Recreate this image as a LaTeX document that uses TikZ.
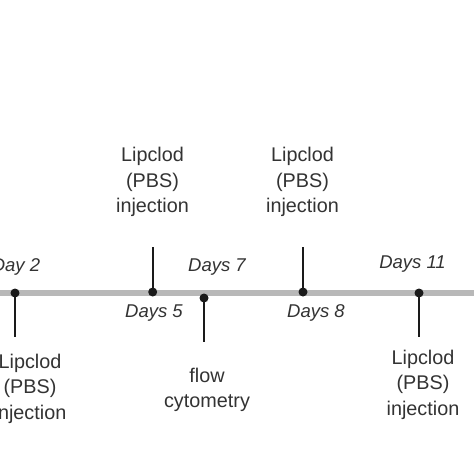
\documentclass[tikz,border=0pt]{standalone}
\usepackage{fontspec}
\setmainfont{Liberation Sans}
\definecolor{txtgray}{HTML}{333333}
\definecolor{axisgray}{HTML}{B8B8B8}
\definecolor{tickblack}{HTML}{1A1A1A}
\begin{document}
\begin{tikzpicture}[x=1pt,y=-1pt,
  dotnode/.style={circle,fill=tickblack,inner sep=0pt,minimum size=9pt},
  tickline/.style={draw=tickblack,line width=2pt},
  axisline/.style={draw=axisgray,line width=6pt},
  daylabel/.style={font=\fontsize{18.5}{22}\selectfont\itshape,text=txtgray,inner sep=0pt},
  eventlabel/.style={font=\fontsize{19.8}{25.5}\selectfont,text=txtgray,align=center,inner sep=0pt}]
\clip (0,0) rectangle (474,474);
\fill[white] (0,0) rectangle (474,474);
% timeline
\coordinate (L) at (-5,292.5);
\coordinate (R) at (480,292.5);
\draw[axisline] (L) -- (R);
% dots
\node[dotnode] (d2) at (15,293) {};
\node[dotnode] (d5) at (152.7,292) {};
\node[dotnode] (d7) at (204,298) {};
\node[dotnode] (d8) at (303,292) {};
\node[dotnode] (d11) at (419,293) {};
% tick ends
\coordinate (e2) at (15,337);
\coordinate (e5) at (152.7,247);
\coordinate (e7) at (204,342);
\coordinate (e8) at (303,247);
\coordinate (e11) at (419,337);
\draw[tickline] (d2.center) -- (e2);
\draw[tickline] (d5.center) -- (e5);
\draw[tickline] (d7.center) -- (e7);
\draw[tickline] (d8.center) -- (e8);
\draw[tickline] (d11.center) -- (e11);
% day labels
\node[daylabel] (l2) at (16,267) {Day 2};
\node[daylabel] (l5) at (154,313) {Days 5};
\node[daylabel] (l7) at (217,267) {Days 7};
\node[daylabel] (l8) at (316,313) {Days 8};
\node[daylabel] (l11) at (412.5,264) {Days 11};
% event labels
\node[eventlabel] (t5) at (152.5,182) {Lipclod\\(PBS)\\injection};
\node[eventlabel] (t8) at (302.5,182) {Lipclod\\(PBS)\\injection};
\node[eventlabel] (b2) at (30,388.5) {Lipclod\\(PBS)\\injection};
\node[eventlabel] (b11) at (423,384.5) {Lipclod\\(PBS)\\injection};
\node[eventlabel] (b7) at (207,390) {flow\\cytometry};
\end{tikzpicture}
\end{document}
